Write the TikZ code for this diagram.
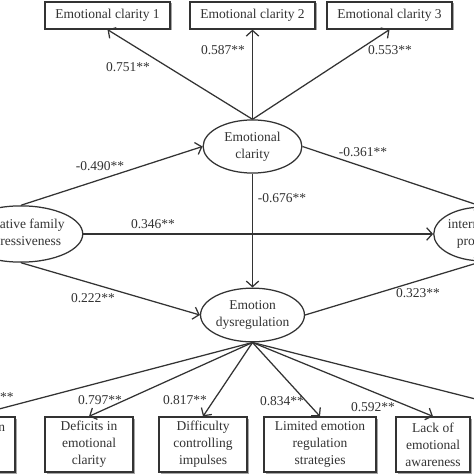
\documentclass[tikz,border=0pt]{standalone}
\usepackage{fontspec}
\setmainfont{Liberation Serif}
\usetikzlibrary{arrows.meta,shapes.geometric,shadows}
\definecolor{ink}{HTML}{333333}
\def\labfont{\fontsize{10.8}{13.6}\selectfont}
\tikzset{
	latent/.style={draw=ink, ellipse, line width=1pt, inner sep=0pt, align=center, text=ink, font=\labfont, fill=white},
	indicator/.style={draw=ink, rectangle, line width=1pt, inner sep=0pt, align=center, text=ink, font=\labfont, fill=white,
		drop shadow={shadow xshift=1.2pt, shadow yshift=-1.2pt, fill=black!35, opacity=1}},
	effect/.style={draw=ink, line width=1pt, -{Straight Barb[length=4.5pt,width=10pt]}},
	coef/.style={text=ink, font=\labfont, inner sep=1pt},
}

\begin{document}
\begin{tikzpicture}[x=0.8pt, y=-0.8pt]
		%%%%% START %%%%%
		\useasboundingbox (0, 0) rectangle (474, 474);
		\fill[white] (0, 0) rectangle (474, 474);
		\clip (0, 0) rectangle (474, 474);
		
		% latent variables
		\node[latent, minimum width=81.6pt, minimum height=45pt] (nfe) at (21, 234) {Negative family\\expressiveness};
		\node[latent, minimum width=79pt, minimum height=42.5pt] (ec) at (252.5, 146.5) {Emotional\\clarity};
		\node[latent, minimum width=79pt, minimum height=43pt] (ed) at (252.5, 315) {Emotion\\dysregulation};
		\node[latent, minimum width=75pt, minimum height=43pt] (ip) at (482, 234) {internalizing\\problems};
		
		% indicators of emotional clarity
		\node[indicator, minimum width=100pt, minimum height=21.6pt] (ec1) at (107.5, 15.5) {Emotional clarity 1};
		\node[indicator, minimum width=100pt, minimum height=21.6pt] (ec2) at (252.5, 15.5) {Emotional clarity 2};
		\node[indicator, minimum width=100pt, minimum height=21.6pt] (ec3) at (389.5, 15.5) {Emotional clarity 3};
		
		% indicators of emotion dysregulation
		\node[indicator, minimum width=70.4pt, minimum height=44pt] (edl) at (-29, 444.5) {};
		\node[text=ink, font=\labfont, inner sep=0pt, anchor=east] (edltext) at (5.5, 428) {n};
		\node[indicator, minimum width=70.4pt, minimum height=44pt] (ed1) at (89, 444.5) {Deficits in\\emotional\\clarity};
		\node[indicator, minimum width=70.4pt, minimum height=44pt] (ed2) at (203, 444.5) {Difficulty\\controlling\\impulses};
		\node[indicator, minimum width=89.6pt, minimum height=44pt] (ed3) at (320, 444.5) {Limited emotion\\regulation\\strategies};
		\node[indicator, minimum width=59.2pt, minimum height=44pt] (ed4) at (433, 444.5) {Lack of\\emotional\\awareness};
		\node[indicator, minimum width=70.4pt, minimum height=44pt] (edr) at (544, 444.5) {};
		
		% loadings
		\draw[effect] (ec.north) -- (ec1.south);
		\draw[effect] (ec.north) -- (ec2.south);
		\draw[effect] (ec.north) -- (ec3.south);
		\draw[effect] (ed.south) -- (edl.north);
		\draw[effect] (ed.south) -- (ed1.north);
		\draw[effect] (ed.south) -- (ed2.north);
		\draw[effect] (ed.south) -- (ed3.north);
		\draw[effect] (ed.south) -- (ed4.north);
		\draw[effect] (ed.south) -- (edr.north);
		
		% structural paths
		\draw[effect] (nfe.north) -- (ec.west);
		\draw[effect] (nfe.south) -- (ed.west);
		\draw[effect] (nfe.east) -- (ip.west);
		\draw[effect] (ec.east) -- (ip.north);
		\draw[effect] (ed.east) -- (ip.south);
		\draw[effect] (ec.south) -- (ed.north);
		
		% coefficients
		\node[coef] (c1) at (128, 67) {0.751**};
		\node[coef] (c2) at (223, 50) {0.587**};
		\node[coef] (c3) at (390, 50) {0.553**};
		\node[coef] (c4) at (100, 166) {-0.490**};
		\node[coef] (c5) at (363, 152) {-0.361**};
		\node[coef] (c6) at (282, 198) {-0.676**};
		\node[coef] (c7) at (153, 224) {0.346**};
		\node[coef] (c8) at (93, 298) {0.222**};
		\node[coef] (c9) at (418, 293) {0.323**};
		\node[coef, anchor=east] (c10) at (15, 397) {**};
		\node[coef] (c11) at (100, 400) {0.797**};
		\node[coef] (c12) at (185, 400) {0.817**};
		\node[coef] (c13) at (282, 401) {0.834**};
		\node[coef] (c14) at (373, 407) {0.592**};
		%%%%% END %%%%%
\end{tikzpicture}
\end{document}
